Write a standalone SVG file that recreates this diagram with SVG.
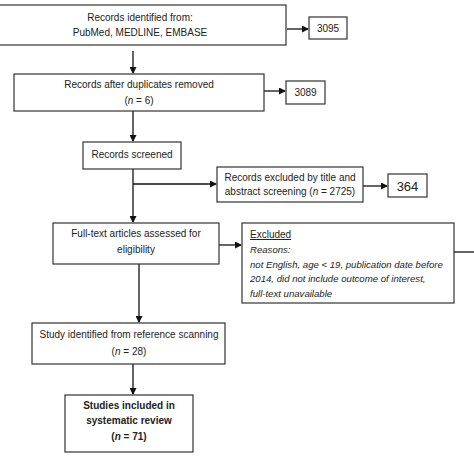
<svg xmlns="http://www.w3.org/2000/svg" width="474" height="474" viewBox="0 0 474 474">
<defs>
<marker id="ah" markerWidth="7" markerHeight="7" refX="6" refY="3.5" orient="auto" markerUnits="userSpaceOnUse">
<path d="M0,0 L7,3.5 L0,7 Z" fill="#111"/>
</marker>
<style>
rect{fill:#fff;stroke:#333;stroke-width:1.2}
text{font-family:"Liberation Sans",Arial,sans-serif;font-size:10px;fill:#222}
.c{text-anchor:middle}
.i{font-style:italic}
.s{font-size:9.6px}
.b{font-weight:bold}
.ln{stroke:#111;stroke-width:1.3;fill:none}
.a{marker-end:url(#ah)}
</style>
</defs>
<rect x="0" y="0" width="474" height="474" style="fill:#fff;stroke:none"/>
<g id="connectors">
<line class="ln a" x1="287" y1="29" x2="308" y2="29"/>
<line class="ln a" x1="133" y1="51" x2="133" y2="73"/>
<line class="ln a" x1="264" y1="91" x2="285" y2="91"/>
<line class="ln a" x1="133" y1="111" x2="133" y2="141"/>
<line class="ln a" x1="133" y1="169" x2="133" y2="222"/>
<line class="ln a" x1="133" y1="184" x2="216" y2="184"/>
<line class="ln a" x1="363" y1="186" x2="387" y2="186"/>
<line class="ln a" x1="219" y1="245" x2="241" y2="245"/>
<line class="ln" x1="454" y1="252" x2="474" y2="252"/>
<line class="ln a" x1="139" y1="264" x2="139" y2="322"/>
<line class="ln a" x1="133" y1="364" x2="133" y2="394"/>
</g>
<g id="n1">
<rect x="-2" y="5" width="288" height="40"/>
<text class="c" x="140" y="21">Records identified from:</text>
<text class="c" x="140" y="36">PubMed, MEDLINE, EMBASE</text>
</g>
<g id="n2">
<rect x="309" y="17" width="38" height="22"/>
<text class="c" x="328" y="32">3095</text>
</g>
<g id="n3">
<rect x="14" y="74" width="250" height="37"/>
<text class="c" x="139" y="88">Records after duplicates removed</text>
<text class="c" x="139" y="104">(<tspan class="i">n</tspan> = 6)</text>
</g>
<g id="n4">
<rect x="286" y="81" width="39" height="23"/>
<text class="c" x="305.5" y="96">3089</text>
</g>
<g id="n5">
<rect x="83" y="142" width="98" height="27"/>
<text class="c" x="132" y="158">Records screened</text>
</g>
<g id="n6">
<rect x="217" y="167" width="146" height="35"/>
<text class="c" x="290" y="181">Records excluded by title and</text>
<text class="c" x="290" y="195">abstract screening (<tspan class="i">n</tspan> = 2725)</text>
</g>
<g id="n7">
<rect x="388" y="174" width="39" height="23"/>
<text class="c" x="407.5" y="190.5" style="font-size:13px">364</text>
</g>
<g id="n8">
<rect x="53" y="223" width="166" height="41"/>
<text class="c" x="136" y="237">Full-text articles assessed for</text>
<text class="c" x="136" y="253">eligibility</text>
</g>
<g id="n9">
<rect x="242" y="223" width="212" height="80"/>
<text x="250" y="238" text-decoration="underline">Excluded</text>
<text class="i s" x="250" y="253">Reasons:</text>
<text class="i s" x="250" y="268">not English, age &lt; 19, publication date before</text>
<text class="i s" x="250" y="282">2014, did not include outcome of interest,</text>
<text class="i s" x="250" y="297">full-text unavailable</text>
</g>
<g id="n10">
<rect x="32" y="323" width="193" height="41"/>
<text class="c" x="129" y="338">Study identified from reference scanning</text>
<text class="c" x="129" y="355">(<tspan class="i">n</tspan>  = 28)</text>
</g>
<g id="n11">
<rect x="65" y="395" width="128" height="57"/>
<text class="c b" x="129" y="409">Studies included in</text>
<text class="c b" x="129" y="424">systematic review</text>
<text class="c b" x="129" y="440">(<tspan class="i">n</tspan> = 71)</text>
</g>
</svg>
